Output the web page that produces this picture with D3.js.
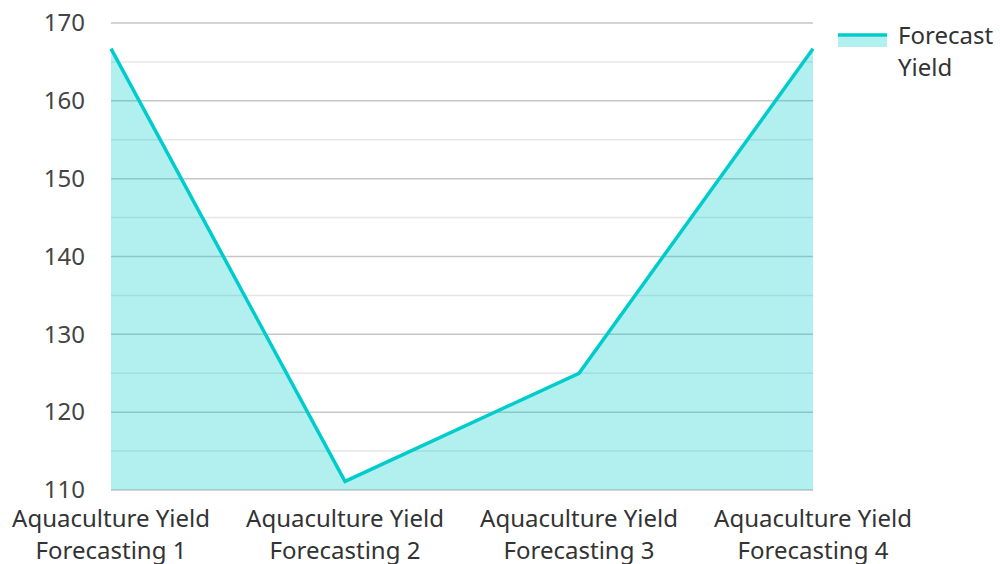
<!DOCTYPE html>
<html>
<head>
<meta charset="utf-8">
<script src="https://cdn.jsdelivr.net/npm/d3@7"></script>
<style>
  body { margin: 0; background: #fff; }
  svg { display: block; font-family: "Noto Sans", "Open Sans", sans-serif; }
</style>
</head>
<body>
<svg id="chart"></svg>
<script>
var categories = ['Aquaculture Yield Forecasting 1', 'Aquaculture Yield Forecasting 2', 'Aquaculture Yield Forecasting 3', 'Aquaculture Yield Forecasting 4'];
var yieldValues = [166.7, 111.1, 125, 166.7];
var yTicks = [110, 120, 130, 140, 150, 160, 170];
var minorTicks = [115, 125, 135, 145, 155, 165];
var seriesName = 'Forecast Yield';

var width = 1000;
var height = 564;
var margin = {top: 23, right: 187, bottom: 74, left: 111};
var lineColor = '#00cccc';
var fontSize = '24px';

var svg = d3.select('#chart')
  .attr('width', width)
  .attr('height', height);

var x = d3.scalePoint()
  .domain(categories)
  .range([margin.left, width - margin.right]);

var y = d3.scaleLinear()
  .domain([110, 170])
  .range([height - margin.bottom, margin.top]);

// grid lines
svg.append('g')
  .selectAll('line.minor')
  .data(minorTicks)
  .enter().append('line')
  .attr('class', 'minor')
  .attr('x1', margin.left)
  .attr('x2', width - margin.right)
  .attr('y1', function(d) { return y(d); })
  .attr('y2', function(d) { return y(d); })
  .attr('stroke', '#e6e6e6')
  .attr('stroke-width', 1.5);

svg.append('g')
  .selectAll('line.major')
  .data(yTicks)
  .enter().append('line')
  .attr('class', 'major')
  .attr('x1', margin.left)
  .attr('x2', width - margin.right)
  .attr('y1', function(d) { return y(d); })
  .attr('y2', function(d) { return y(d); })
  .attr('stroke', '#c6c6c6')
  .attr('stroke-width', 1.5);

// y axis labels
var yAxis = d3.axisLeft(y).tickValues(yTicks).tickSize(0).tickPadding(26);
var yg = svg.append('g')
  .attr('transform', 'translate(' + margin.left + ',0)')
  .call(yAxis);
yg.select('.domain').remove();
yg.selectAll('text')
  .attr('fill', '#444')
  .style('font-size', fontSize)
  .style('font-family', '"Noto Sans", "Open Sans", sans-serif');

// x axis labels, two lines each
var xg = svg.append('g');
categories.forEach(function(c) {
  var words = c.split(' ');
  var t = xg.append('text')
    .attr('x', x(c))
    .attr('y', 527)
    .attr('text-anchor', 'middle')
    .attr('fill', '#333')
    .style('font-size', fontSize);
  t.append('tspan').attr('x', x(c)).text(words.slice(0, 2).join(' '));
  t.append('tspan').attr('x', x(c)).attr('dy', 32).text(words.slice(2).join(' '));
});

var data = categories.map(function(c, i) { return {cat: c, value: yieldValues[i]}; });

var area = d3.area()
  .x(function(d) { return x(d.cat); })
  .y0(y(110))
  .y1(function(d) { return y(d.value); });

var line = d3.line()
  .x(function(d) { return x(d.cat); })
  .y(function(d) { return y(d.value); });

svg.append('path')
  .datum(data)
  .attr('d', area)
  .attr('fill', lineColor)
  .attr('fill-opacity', 0.3);

svg.append('path')
  .datum(data)
  .attr('d', line)
  .attr('fill', 'none')
  .attr('stroke', lineColor)
  .attr('stroke-width', 3.5)
  .attr('stroke-linejoin', 'miter');

// legend
var legend = svg.append('g').attr('transform', 'translate(838,35)');
legend.append('rect')
  .attr('x', 0).attr('y', 0)
  .attr('width', 49).attr('height', 12)
  .attr('fill', lineColor)
  .attr('fill-opacity', 0.3);
legend.append('line')
  .attr('x1', 0).attr('x2', 49)
  .attr('y1', 0).attr('y2', 0)
  .attr('stroke', lineColor)
  .attr('stroke-width', 3.5);
var lt = legend.append('text')
  .attr('x', 60)
  .attr('y', 9)
  .attr('fill', '#333')
  .style('font-size', fontSize);
lt.append('tspan').attr('x', 60).text(seriesName.split(' ')[0]);
lt.append('tspan').attr('x', 60).attr('dy', 32).text(seriesName.split(' ')[1]);
</script>
</body>
</html>
